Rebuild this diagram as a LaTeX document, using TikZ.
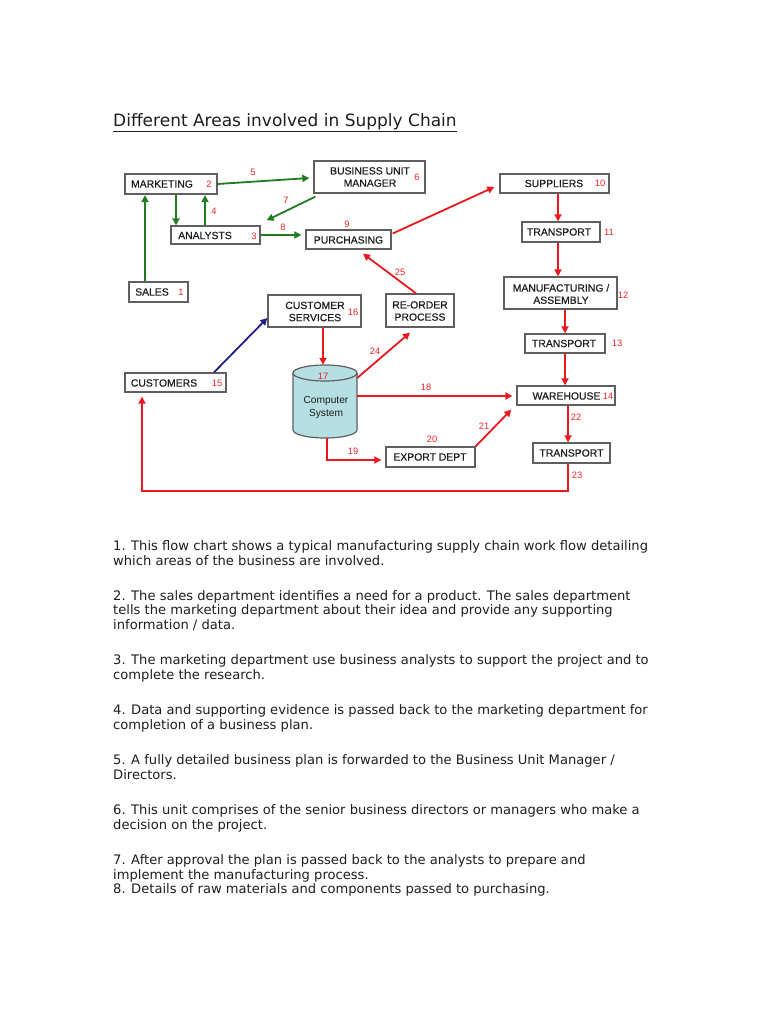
\documentclass[tikz,border=0pt]{standalone}
\usepackage{fontspec}
\setmainfont{DejaVu Sans}
\newfontfamily\arialf[FakeBold=0.5]{Liberation Sans}
\newfontfamily\arialn{Liberation Sans}
\usetikzlibrary{arrows.meta,calc}
\definecolor{gline}{RGB}{34,122,34}
\definecolor{rline}{RGB}{232,24,30}
\definecolor{bline}{RGB}{32,32,140}
\definecolor{boxc}{RGB}{95,95,95}
\definecolor{cylc}{RGB}{182,223,227}
\definecolor{numc}{RGB}{235,35,40}
\definecolor{txtc}{RGB}{30,30,30}
\begin{document}
\begin{tikzpicture}[x=1pt,y=-1pt,
  box/.style={draw=boxc, line width=1.3pt, fill=white, inner sep=0pt},
  lbl/.style={font=\arialf\fontsize{10.4}{12.2}\selectfont, text=txtc, inner sep=0pt, align=center},
  num/.style={font=\arialn\fontsize{9.3}{10}\selectfont, text=numc, inner sep=0pt},
  arr/.style={line width=1.8pt, -{Triangle[length=7pt,width=7pt]}},
  garr/.style={arr, draw=gline},
  rarr/.style={arr, draw=rline},
  barr/.style={arr, draw=bline},
  para/.style={anchor=base west, align=left, inner sep=0pt, font=\fontsize{13.1}{14.5}\selectfont, text=txtc}
]
\useasboundingbox (0,0) rectangle (768,1024);
\fill[white] (0,0) rectangle (768,1024);

% title
\node[anchor=base west, inner sep=0pt, font=\fontsize{17}{20}\selectfont, text=txtc] (title) at (113,127) {Different Areas involved in Supply Chain};
\draw[txtc, line width=1.3pt] ($(title.base west)+(0,4.5)$) -- ($(title.base east)+(0,4.5)$);

% boxes
\node[box, minimum width=59, minimum height=20] (sales) at (158.5,292) {};
\node[box, minimum width=92, minimum height=20] (marketing) at (171,184) {};
\node[box, minimum width=89, minimum height=18] (analysts) at (215.5,235) {};
\node[box, minimum width=111, minimum height=32] (bum) at (369.5,177) {};
\node[box, minimum width=85, minimum height=19] (purchasing) at (348.5,239.5) {};
\node[box, minimum width=93, minimum height=32] (custserv) at (314.5,311) {};
\node[box, minimum width=68, minimum height=33] (reorder) at (420,310.5) {};
\node[box, minimum width=109, minimum height=19] (suppliers) at (554.5,183.5) {};
\node[box, minimum width=78, minimum height=20] (transport1) at (561,232) {};
\node[box, minimum width=113, minimum height=32] (manuf) at (560.5,293) {};
\node[box, minimum width=80, minimum height=19] (transport2) at (565,343.5) {};
\node[box, minimum width=98, minimum height=19] (warehouse) at (566,395.5) {};
\node[box, minimum width=77, minimum height=20] (transport3) at (571.5,453) {};
\node[box, minimum width=101, minimum height=19] (customers) at (175.5,382.5) {};
\node[box, minimum width=89, minimum height=20] (export) at (430.5,457) {};

% cylinder
\node[inner sep=0pt, minimum width=64, minimum height=73] (comp) at (325,401.5) {};
\fill[cylc] (293,373) -- (293,430) arc[start angle=180, end angle=360, x radius=32pt, y radius=8pt] -- (357,373) arc[start angle=0, end angle=180, x radius=32pt, y radius=8pt] -- cycle;
\draw[boxc, line width=1.2pt] (293,373) -- (293,430) arc[start angle=180, end angle=360, x radius=32pt, y radius=8pt] -- (357,373);
\draw[boxc, line width=1.2pt] (325,373) ellipse[x radius=32pt, y radius=8pt];

% box texts
\node[lbl] (tsales) at (152,292) {SALES};
\node[lbl] (tmarketing) at (162,184) {MARKETING};
\node[lbl] (tanalysts) at (205,235.5) {ANALYSTS};
\node[lbl] (tbum) at (370,177) {BUSINESS UNIT\\MANAGER};
\node[lbl] (tpurchasing) at (348.5,240) {PURCHASING};
\node[lbl] (tcustserv) at (315,311.5) {CUSTOMER\\SERVICES};
\node[lbl] (treorder) at (420,311) {RE-ORDER\\PROCESS};
\node[lbl] (tsuppliers) at (554,183.5) {SUPPLIERS};
\node[lbl] (ttransport1) at (559,232) {TRANSPORT};
\node[lbl] (tmanuf) at (561,294) {MANUFACTURING /\\ASSEMBLY};
\node[lbl] (ttransport2) at (564,343.5) {TRANSPORT};
\node[lbl] (twarehouse) at (566.5,396) {WAREHOUSE};
\node[lbl] (ttransport3) at (571.5,453) {TRANSPORT};
\node[lbl] (tcustomers) at (164,383) {CUSTOMERS};
\node[lbl] (texport) at (430,457) {EXPORT DEPT};
\node[lbl, font=\arialn\fontsize{10.2}{13}\selectfont] (tcomp) at (326,407) {Computer\\System};

% numbers
\node[num] (n1) at (181,292) {1};
\node[num] (n2) at (209,184) {2};
\node[num] (n3) at (254,236) {3};
\node[num] (n4) at (214,211) {4};
\node[num] (n5) at (253,172) {5};
\node[num] (n6) at (417,177) {6};
\node[num] (n7) at (286,200) {7};
\node[num] (n8) at (283,227) {8};
\node[num] (n9) at (347,224) {9};
\node[num] (n10) at (600,183) {10};
\node[num] (n11) at (609,232) {11};
\node[num] (n12) at (623,295) {12};
\node[num] (n13) at (617,343) {13};
\node[num] (n14) at (608,396) {14};
\node[num] (n15) at (217,383) {15};
\node[num] (n16) at (353,312) {16};
\node[num] (n17) at (323,376) {17};
\node[num] (n18) at (426,387) {18};
\node[num] (n19) at (353,451) {19};
\node[num] (n20) at (432,439) {20};
\node[num] (n21) at (484,426) {21};
\node[num] (n22) at (576,417) {22};
\node[num] (n23) at (577,475) {23};
\node[num] (n24) at (375,351) {24};
\node[num] (n25) at (400,272) {25};

% green arrows
\draw[garr] ($(sales.north)+(-13.5,0)$) -- ($(marketing.south)+(-26,0.5)$);
\draw[garr] ($(marketing.south)+(5,0)$) -- ($(analysts.north)+(-39.5,0)$);
\draw[garr] ($(analysts.north)+(-10.5,0)$) -- ($(marketing.south)+(34,0.5)$);
\draw[garr] (marketing.east) -- ($(bum.west)+(-4,1)$);
\draw[garr] ($(bum.south west)+(2,3)$) -- ($(analysts.north east)+(6,-5)$);
\draw[garr] (analysts.east) -- ($(purchasing.west)+(-4,-4.5)$);

% red arrows
\draw[rarr] ($(purchasing.east)+(1,-6)$) -- ($(suppliers.west)+(-5,3.5)$);
\draw[rarr] ($(reorder.north)+(-4,0)$) -- ($(purchasing.south)+(14.5,4)$);
\draw[rarr] ($(suppliers.south)+(3.5,0)$) -- ($(transport1.north)+(-3,0)$);
\draw[rarr] ($(transport1.south)+(-3,0)$) -- ($(manuf.north)+(-2.5,0)$);
\draw[rarr] ($(manuf.south)+(4.5,0)$) -- (transport2.north);
\draw[rarr] (transport2.south) -- ($(warehouse.north)+(-1,0)$);
\draw[rarr] ($(warehouse.south)+(2,0)$) -- ($(transport3.north)+(-3.5,0)$);
\draw[rarr] ($(transport3.south)+(-3.5,0)$) -- ++(0,27) -| ($(customers.south)+(-33.5,4)$);
\draw[rarr] ($(custserv.south)+(8.5,0)$) -- ($(comp.north)+(-2,0)$);
\draw[rarr] ($(comp.east)+(0,-23.5)$) -- ($(reorder.south)+(-10,5)$);
\draw[rarr] ($(comp.east)+(0,-5.5)$) -- ($(warehouse.west)+(-4,0.5)$);
\draw[rarr] ($(comp.south)+(2,0)$) |- ($(export.west)+(-4,3)$);
\draw[rarr] (export.north east) -- ($(warehouse.south west)+(-5,4)$);

% blue arrow
\draw[barr] ($(customers.north)+(38.5,0)$) -- ($(custserv.west)+(0,7)$);

% text paragraphs (anchor = baseline of the last line)
\node[para] (p1) at (113,565) {1. This flow chart shows a typical manufacturing supply chain work flow detailing\\which areas of the business are involved.};
\node[para] (p2) at (113,629) {2. The sales department identifies a need for a product. The sales department\\tells the marketing department about their idea and provide any supporting\\information / data.};
\node[para] (p3) at (113,679) {3. The marketing department use business analysts to support the project and to\\complete the research.};
\node[para] (p4) at (113,729) {4. Data and supporting evidence is passed back to the marketing department for\\completion of a business plan.};
\node[para] (p5) at (113,779) {5. A fully detailed business plan is forwarded to the Business Unit Manager /\\Directors.};
\node[para] (p6) at (113,829) {6. This unit comprises of the senior business directors or managers who make a\\decision on the project.};
\node[para] (p7) at (113,893.5) {7. After approval the plan is passed back to the analysts to prepare and\\implement the manufacturing process.\\8. Details of raw materials and components passed to purchasing.};
\end{tikzpicture}
\end{document}
